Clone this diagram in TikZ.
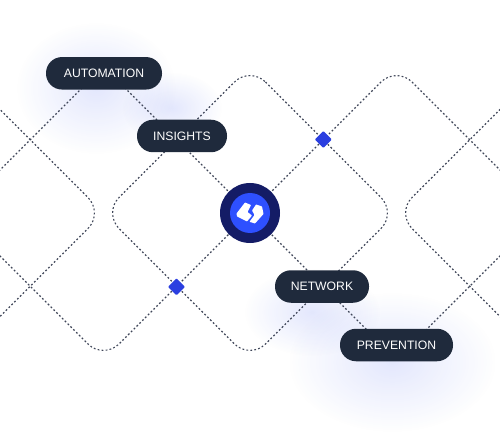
\documentclass[tikz,border=0pt]{standalone}
\usepackage{fontspec}
\setmainfont{Liberation Sans}
\usetikzlibrary{fadings}
\definecolor{INK}{HTML}{1F2A3C}
\definecolor{DOT}{HTML}{3F4659}
\definecolor{NAVY}{HTML}{141C66}
\definecolor{BLUE}{HTML}{2E50FF}
\definecolor{MARKER}{HTML}{2B3FE0}
\definecolor{GLOW}{HTML}{3A56F0}
\tikzfading[name=glowfade,inner color=transparent!86,outer color=transparent!100]

\begin{document}
\begin{tikzpicture}[x=1pt,y=-1pt]
\tikzset{dotline/.style={DOT,line width=1.1pt,dash pattern=on 1.8pt off 2.2pt,rounded corners=22pt},
 pill/.style={rounded corners=16pt,fill=INK,text=white,font=\fontsize{12.2}{14}\selectfont,minimum height=32.5pt,inner sep=0pt},
 marker/.style={rectangle,rotate=45,fill=MARKER,minimum size=12pt,inner sep=0pt,rounded corners=0.8pt},
 glow/.style={GLOW,path fading=glowfade},glyph/.style={fill=white,rounded corners=0.5pt}}
\useasboundingbox (0,0) rectangle (500,438);
\clip (0,0) rectangle (500,438);
\fill[white] (0,0) rectangle (500,438);
\fill[glow] (96,88) ellipse (80 and 66);
\fill[glow] (172,108) ellipse (50 and 36);
\fill[glow] (392,362) ellipse (104 and 70);
\fill[glow] (312,312) ellipse (68 and 44);
% lattice
\draw[dotline] (250,66.5)--(396.5,213)--(250,359.5)--(103.5,213)--cycle;
\draw[dotline] (103.5,66.5)--(396.5,359.5)--(543,213)--(396.5,66.5)--(103.5,359.5)--(-43,213)--cycle;
\foreach \cx in {-43,543}{\draw[dotline] (\cx,66.5)--(\cx+146.5,213)--(\cx,359.5)--(\cx-146.5,213)--cycle;}
\node[marker] (markerup) at (323.3,139.5) {};
\node[marker] (markerdown) at (176.5,286.8) {};
% hub
\node[circle,fill=NAVY,minimum size=60pt,inner sep=0pt] (hub) at (250,213) {};
\node[circle,fill=BLUE,minimum size=40pt,inner sep=0pt] (hubin) at (hub) {};
\fill[glyph] (236.5,213.5)--(245,202.5)--(251,205)--(247.5,212)--(252,215.5)--(247,221.5)--(237,216.5)--cycle;
\fill[glyph] (252,210.5)--(256,204.5)--(262,206.5)--(263.5,214)--(255,223.5)--(249.5,221.8)--(254.5,215)--cycle;
% labels
\node[pill,minimum width=116pt] (automation) at (104,73.3) {AUTOMATION};
\node[pill,minimum width=90pt] (insights) at (182,136) {INSIGHTS};
\node[pill,minimum width=94pt] (network) at (322,286.5) {NETWORK};
\node[pill,minimum width=113pt] (prevention) at (396.5,345) {PREVENTION};
\end{tikzpicture}
\end{document}
